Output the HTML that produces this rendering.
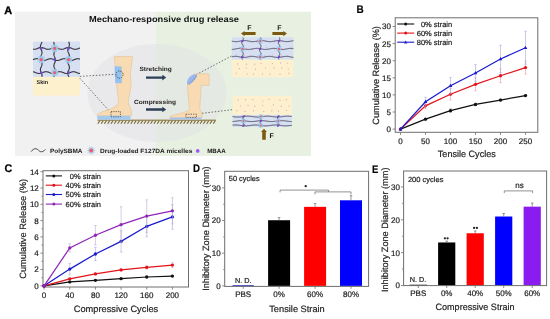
<!DOCTYPE html>
<html><head><meta charset="utf-8"><style>
html,body{margin:0;padding:0;background:#fff;width:550px;height:319px;overflow:hidden}
svg{display:block;font-family:"Liberation Sans", sans-serif;will-change:transform;filter:blur(0.3px)} text{text-rendering:geometricPrecision} .c text{stroke:#222;stroke-width:0.2px}
</style></head><body>
<svg width="550" height="319" viewBox="0 0 550 319">
<rect width="550" height="319" fill="#fff"/>
<rect x="15" y="11.7" width="141" height="144.3" fill="#f1f1f1"/>
<rect x="156" y="11.7" width="155" height="144.3" fill="#e8f1e1"/>
<ellipse cx="157" cy="93" rx="69.5" ry="49" fill="#e2e2e5" opacity="0.5"/>
<text x="4.30" y="13.50" font-size="11" text-anchor="start" font-weight="bold" fill="#000" textLength="7.9" lengthAdjust="spacingAndGlyphs" stroke="#000" stroke-width="0.35">A</text>
<text x="89.00" y="21.70" font-size="8.6" text-anchor="start" font-weight="bold" fill="#111" textLength="150" lengthAdjust="spacingAndGlyphs" >Mechano-responsive drug release</text>
<rect x="33" y="41.6" width="47" height="35.3" fill="#d7dff3"/>
<rect x="33" y="76.9" width="47" height="18.8" fill="#fdf0cc"/>
<polyline points="33.00,49.16 33.49,49.25 33.99,49.29 34.48,49.29 34.98,49.25 35.47,49.16 35.97,49.03 36.46,48.87 36.96,48.69 37.45,48.49 37.95,48.29 38.44,48.09 38.94,47.91 39.43,47.75 39.93,47.63 40.42,47.54 40.92,47.50 41.41,47.51 41.91,47.56 42.40,47.66 42.89,47.79 43.39,47.95 43.88,48.14 44.38,48.34 44.87,48.55 45.37,48.74 45.86,48.92 46.36,49.07 46.85,49.19 47.35,49.27 47.84,49.30 48.34,49.29 48.83,49.23 49.33,49.13 49.82,48.99 50.32,48.82 50.81,48.63 51.31,48.43 51.80,48.22 52.29,48.03 52.79,47.85 53.28,47.71 53.78,47.60 54.27,47.53 54.77,47.50 55.26,47.52 55.76,47.59 56.25,47.69 56.75,47.84 57.24,48.01 57.74,48.20 58.23,48.40 58.73,48.61 59.22,48.80 59.72,48.97 60.21,49.11 60.71,49.22 61.20,49.28 61.69,49.30 62.19,49.27 62.68,49.20 63.18,49.09 63.67,48.94 64.17,48.76 64.66,48.57 65.16,48.36 65.65,48.16 66.15,47.97 66.64,47.81 67.14,47.67 67.63,47.57 68.13,47.51 68.62,47.50 69.12,47.54 69.61,47.62 70.11,47.73 70.60,47.89 71.09,48.07 71.59,48.26 72.08,48.47 72.58,48.67 73.07,48.85 73.57,49.02 74.06,49.15 74.56,49.24 75.05,49.29 75.55,49.30 76.04,49.25 76.54,49.17 77.03,49.04 77.53,48.89 78.02,48.70 78.52,48.50 79.01,48.30 79.51,48.10 80.00,47.92" fill="none" stroke="#3a3a3a" stroke-width="1.15"/>
<polyline points="33.00,59.73 33.49,59.52 33.99,59.32 34.48,59.14 34.98,58.98 35.47,58.85 35.97,58.75 36.46,58.71 36.96,58.70 37.45,58.75 37.95,58.84 38.44,58.96 38.94,59.12 39.43,59.31 39.93,59.50 40.42,59.71 40.92,59.91 41.41,60.09 41.91,60.25 42.40,60.37 42.89,60.46 43.39,60.50 43.88,60.49 44.38,60.44 44.87,60.35 45.37,60.21 45.86,60.05 46.36,59.86 46.85,59.66 47.35,59.46 47.84,59.26 48.34,59.09 48.83,58.93 49.33,58.81 49.82,58.74 50.32,58.70 50.81,58.71 51.31,58.77 51.80,58.87 52.29,59.01 52.79,59.18 53.28,59.37 53.78,59.57 54.27,59.77 54.77,59.96 55.26,60.14 55.76,60.29 56.25,60.40 56.75,60.47 57.24,60.50 57.74,60.48 58.23,60.42 58.73,60.31 59.22,60.17 59.72,60.00 60.21,59.80 60.71,59.60 61.20,59.40 61.69,59.21 62.19,59.03 62.68,58.89 63.18,58.78 63.67,58.72 64.17,58.70 64.66,58.73 65.16,58.80 65.65,58.91 66.15,59.06 66.64,59.23 67.14,59.43 67.63,59.63 68.13,59.83 68.62,60.02 69.12,60.19 69.61,60.33 70.11,60.43 70.60,60.49 71.09,60.50 71.59,60.47 72.08,60.39 72.58,60.27 73.07,60.12 73.57,59.94 74.06,59.74 74.56,59.54 75.05,59.34 75.55,59.15 76.04,58.99 76.54,58.85 77.03,58.76 77.53,58.71 78.02,58.70 78.52,58.74 79.01,58.83 79.51,58.95 80.00,59.11" fill="none" stroke="#3a3a3a" stroke-width="1.15"/>
<polyline points="33.00,71.74 33.49,71.82 33.99,71.94 34.48,72.09 34.98,72.27 35.47,72.47 35.97,72.67 36.46,72.87 36.96,73.06 37.45,73.22 37.95,73.35 38.44,73.44 38.94,73.49 39.43,73.50 39.93,73.45 40.42,73.37 40.92,73.24 41.41,73.08 41.91,72.90 42.40,72.70 42.89,72.50 43.39,72.30 43.88,72.12 44.38,71.96 44.87,71.83 45.37,71.75 45.86,71.70 46.36,71.71 46.85,71.76 47.35,71.85 47.84,71.98 48.34,72.14 48.83,72.33 49.33,72.53 49.82,72.73 50.32,72.93 50.81,73.11 51.31,73.26 51.80,73.38 52.29,73.46 52.79,73.50 53.28,73.49 53.78,73.43 54.27,73.33 54.77,73.20 55.26,73.03 55.76,72.84 56.25,72.64 56.75,72.44 57.24,72.24 57.74,72.06 58.23,71.92 58.73,71.80 59.22,71.73 59.72,71.70 60.21,71.72 60.71,71.78 61.20,71.89 61.69,72.03 62.19,72.20 62.68,72.39 63.18,72.59 63.67,72.79 64.17,72.99 64.66,73.16 65.16,73.30 65.65,73.41 66.15,73.48 66.64,73.50 67.14,73.48 67.63,73.41 68.13,73.29 68.62,73.15 69.12,72.97 69.61,72.78 70.11,72.58 70.60,72.37 71.09,72.18 71.59,72.02 72.08,71.88 72.58,71.77 73.07,71.72 73.57,71.70 74.06,71.73 74.56,71.81 75.05,71.93 75.55,72.08 76.04,72.26 76.54,72.45 77.03,72.66 77.53,72.86 78.02,73.04 78.52,73.21 79.01,73.34 79.51,73.44 80.00,73.49" fill="none" stroke="#3a3a3a" stroke-width="1.15"/>
<polyline points="41.93,41.80 41.81,42.29 41.65,42.79 41.46,43.28 41.25,43.78 41.03,44.27 40.83,44.77 40.66,45.26 40.52,45.75 40.43,46.25 40.40,46.74 40.43,47.24 40.51,47.73 40.64,48.23 40.82,48.72 41.02,49.22 41.23,49.71 41.44,50.20 41.64,50.70 41.80,51.19 41.92,51.69 41.99,52.18 42.00,52.68 41.95,53.17 41.85,53.66 41.70,54.16 41.51,54.65 41.31,55.15 41.09,55.64 40.88,56.14 40.70,56.63 40.55,57.13 40.45,57.62 40.40,58.11 40.41,58.61 40.48,59.10 40.60,59.60 40.77,60.09 40.96,60.59 41.17,61.08 41.39,61.57 41.59,62.07 41.76,62.56 41.89,63.06 41.97,63.55 42.00,64.05 41.97,64.54 41.88,65.04 41.74,65.53 41.56,66.02 41.36,66.52 41.15,67.01 40.94,67.51 40.74,68.00 40.58,68.50 40.47,68.99 40.41,69.48 40.41,69.98 40.46,70.47 40.57,70.97 40.72,71.46 40.91,71.96 41.12,72.45 41.33,72.95 41.54,73.44 41.72,73.93 41.86,74.43 41.96,74.92 42.00,75.42 41.98,75.91 41.91,76.41 41.78,76.90" fill="none" stroke="#3a3a3a" stroke-width="1.15"/>
<polyline points="54.00,41.80 53.92,42.29 53.90,42.79 53.94,43.28 54.03,43.78 54.16,44.27 54.34,44.77 54.55,45.26 54.76,45.75 54.97,46.25 55.16,46.74 55.32,47.24 55.43,47.73 55.49,48.23 55.49,48.72 55.44,49.22 55.33,49.71 55.17,50.20 54.98,50.70 54.77,51.19 54.56,51.69 54.35,52.18 54.17,52.68 54.03,53.17 53.94,53.66 53.90,54.16 53.92,54.65 54.00,55.15 54.12,55.64 54.29,56.14 54.49,56.63 54.71,57.13 54.92,57.62 55.12,58.11 55.28,58.61 55.41,59.10 55.48,59.60 55.50,60.09 55.46,60.59 55.36,61.08 55.22,61.57 55.04,62.07 54.83,62.56 54.61,63.06 54.41,63.55 54.22,64.05 54.07,64.54 53.96,65.04 53.91,65.53 53.91,66.02 53.97,66.52 54.09,67.01 54.25,67.51 54.44,68.00 54.65,68.50 54.86,68.99 55.07,69.48 55.24,69.98 55.38,70.47 55.47,70.97 55.50,71.46 55.47,71.96 55.39,72.45 55.26,72.95 55.09,73.44 54.89,73.93 54.67,74.43 54.46,74.92 54.26,75.42 54.10,75.91 53.98,76.41 53.91,76.90" fill="none" stroke="#3a3a3a" stroke-width="1.15"/>
<polyline points="68.69,41.80 68.90,42.29 69.09,42.79 69.24,43.28 69.34,43.78 69.40,44.27 69.39,44.77 69.32,45.26 69.21,45.75 69.05,46.25 68.85,46.74 68.64,47.24 68.43,47.73 68.23,48.23 68.05,48.72 67.92,49.22 67.83,49.71 67.80,50.20 67.83,50.70 67.91,51.19 68.05,51.69 68.22,52.18 68.42,52.68 68.64,53.17 68.85,53.66 69.04,54.16 69.20,54.65 69.32,55.15 69.39,55.64 69.40,56.14 69.35,56.63 69.24,57.13 69.09,57.62 68.91,58.11 68.70,58.61 68.48,59.10 68.28,59.60 68.09,60.09 67.95,60.59 67.85,61.08 67.80,61.57 67.82,62.07 67.89,62.56 68.01,63.06 68.17,63.55 68.37,64.05 68.58,64.54 68.79,65.04 68.99,65.53 69.17,66.02 69.30,66.52 69.38,67.01 69.40,67.51 69.37,68.00 69.28,68.50 69.14,68.99 68.96,69.48 68.76,69.98 68.54,70.47 68.33,70.97 68.14,71.46 67.98,71.96 67.87,72.45 67.81,72.95 67.81,73.44 67.86,73.93 67.97,74.43 68.12,74.92 68.31,75.42 68.52,75.91 68.74,76.41 68.94,76.90" fill="none" stroke="#3a3a3a" stroke-width="1.15"/>
<circle cx="41.2" cy="48.4" r="1.35" fill="#7a44dc"/>
<circle cx="54.7" cy="48.4" r="3.3" fill="#b4d6f4" opacity="0.95"/>
<path d="M56.40,48.40 L58.90,48.40 M56.17,49.25 L58.34,50.50 M55.55,49.87 L56.80,52.04 M54.70,50.10 L54.70,52.60 M53.85,49.87 L52.60,52.04 M53.23,49.25 L51.06,50.50 M53.00,48.40 L50.50,48.40 M53.23,47.55 L51.06,46.30 M53.85,46.93 L52.60,44.76 M54.70,46.70 L54.70,44.20 M55.55,46.93 L56.80,44.76 M56.17,47.55 L58.34,46.30" stroke="#84bcea" stroke-width="0.6" fill="none"/>
<circle cx="54.7" cy="48.4" r="1.7" fill="#e9606a"/>
<circle cx="68.6" cy="48.4" r="1.35" fill="#7a44dc"/>
<circle cx="41.2" cy="59.6" r="3.3" fill="#b4d6f4" opacity="0.95"/>
<path d="M42.90,59.60 L45.40,59.60 M42.67,60.45 L44.84,61.70 M42.05,61.07 L43.30,63.24 M41.20,61.30 L41.20,63.80 M40.35,61.07 L39.10,63.24 M39.73,60.45 L37.56,61.70 M39.50,59.60 L37.00,59.60 M39.73,58.75 L37.56,57.50 M40.35,58.13 L39.10,55.96 M41.20,57.90 L41.20,55.40 M42.05,58.13 L43.30,55.96 M42.67,58.75 L44.84,57.50" stroke="#84bcea" stroke-width="0.6" fill="none"/>
<circle cx="41.2" cy="59.6" r="1.7" fill="#e9606a"/>
<circle cx="54.7" cy="59.6" r="1.35" fill="#7a44dc"/>
<circle cx="68.6" cy="59.6" r="3.3" fill="#b4d6f4" opacity="0.95"/>
<path d="M70.30,59.60 L72.80,59.60 M70.07,60.45 L72.24,61.70 M69.45,61.07 L70.70,63.24 M68.60,61.30 L68.60,63.80 M67.75,61.07 L66.50,63.24 M67.13,60.45 L64.96,61.70 M66.90,59.60 L64.40,59.60 M67.13,58.75 L64.96,57.50 M67.75,58.13 L66.50,55.96 M68.60,57.90 L68.60,55.40 M69.45,58.13 L70.70,55.96 M70.07,58.75 L72.24,57.50" stroke="#84bcea" stroke-width="0.6" fill="none"/>
<circle cx="68.6" cy="59.6" r="1.7" fill="#e9606a"/>
<circle cx="41.2" cy="72.6" r="1.35" fill="#7a44dc"/>
<circle cx="54.7" cy="72.6" r="3.3" fill="#b4d6f4" opacity="0.95"/>
<path d="M56.40,72.60 L58.90,72.60 M56.17,73.45 L58.34,74.70 M55.55,74.07 L56.80,76.24 M54.70,74.30 L54.70,76.80 M53.85,74.07 L52.60,76.24 M53.23,73.45 L51.06,74.70 M53.00,72.60 L50.50,72.60 M53.23,71.75 L51.06,70.50 M53.85,71.13 L52.60,68.96 M54.70,70.90 L54.70,68.40 M55.55,71.13 L56.80,68.96 M56.17,71.75 L58.34,70.50" stroke="#84bcea" stroke-width="0.6" fill="none"/>
<circle cx="54.7" cy="72.6" r="1.7" fill="#e9606a"/>
<circle cx="68.6" cy="72.6" r="1.35" fill="#7a44dc"/>
<text x="36.50" y="83.60" font-size="5.5" text-anchor="start" font-weight="bold" fill="#222" textLength="11.5" lengthAdjust="spacingAndGlyphs" >Skin</text>
<line x1="79.8" y1="76.4" x2="115.8" y2="74.2" stroke="#444" stroke-width="0.75" stroke-dasharray="1.5,1.7" fill="none"/>
<line x1="79.8" y1="78.2" x2="110.8" y2="112.6" stroke="#444" stroke-width="0.75" stroke-dasharray="1.5,1.7" fill="none"/>
<line x1="196.3" y1="74.6" x2="231.5" y2="56" stroke="#444" stroke-width="0.75" stroke-dasharray="1.5,1.7" fill="none"/>
<line x1="202" y1="113.3" x2="232.2" y2="109.7" stroke="#444" stroke-width="0.75" stroke-dasharray="1.5,1.7" fill="none"/>
<line x1="97.5" y1="120.2" x2="216" y2="120.2" stroke="#7d6a28" stroke-width="1.0"/>
<path d="M97.80,123.8 L99.80,120.7 M101.10,123.8 L103.10,120.7 M104.40,123.8 L106.40,120.7 M107.70,123.8 L109.70,120.7 M111.00,123.8 L113.00,120.7 M114.30,123.8 L116.30,120.7 M117.60,123.8 L119.60,120.7 M120.90,123.8 L122.90,120.7 M124.20,123.8 L126.20,120.7 M127.50,123.8 L129.50,120.7 M130.80,123.8 L132.80,120.7 M134.10,123.8 L136.10,120.7 M137.40,123.8 L139.40,120.7 M140.70,123.8 L142.70,120.7 M144.00,123.8 L146.00,120.7 M147.30,123.8 L149.30,120.7 M150.60,123.8 L152.60,120.7 M153.90,123.8 L155.90,120.7 M157.20,123.8 L159.20,120.7 M160.50,123.8 L162.50,120.7 M163.80,123.8 L165.80,120.7 M167.10,123.8 L169.10,120.7 M170.40,123.8 L172.40,120.7 M173.70,123.8 L175.70,120.7 M177.00,123.8 L179.00,120.7 M180.30,123.8 L182.30,120.7 M183.60,123.8 L185.60,120.7 M186.90,123.8 L188.90,120.7 M190.20,123.8 L192.20,120.7 M193.50,123.8 L195.50,120.7 M196.80,123.8 L198.80,120.7 M200.10,123.8 L202.10,120.7 M203.40,123.8 L205.40,120.7 M206.70,123.8 L208.70,120.7 M210.00,123.8 L212.00,120.7 M213.30,123.8 L215.30,120.7" stroke="#74622a" stroke-width="1.05" fill="none"/>
<path d="M114.2,56.6 L132.6,56.6 L130.4,73.5 C131.2,79 131.2,84 130.8,88 L128.2,101.6 C128.6,106 131.4,108.5 131.4,112 L131.4,115.8 L97.3,115.8 C97.3,113.2 101,112.2 106,110.6 C112,108.6 117.5,106.5 118.6,101.6 L116.9,88 L116.1,73.5 Z" fill="#f8dbb2" stroke="#dcbb8c" stroke-width="0.5"/>
<rect x="97.3" y="115.8" width="33.2" height="3.9" fill="#a4caf0"/>
<path d="M114.5,66.2 L121.6,66.5 L121.8,83.3 L115.2,83 Z" fill="#97c2f0"/>
<circle cx="119.5" cy="74.6" r="3.6" fill="none" stroke="#333" stroke-width="0.75" stroke-dasharray="1.4,1.1"/>
<rect x="111" y="111.6" width="9.4" height="5.2" fill="none" stroke="#3a3a3a" stroke-width="0.7" stroke-dasharray="1.3,1"/>
<path d="M195.4,73.8 L208.3,73.8 Q209.1,73.8 209.1,74.8 L209.1,85.3 L201.2,85.3 L200.4,98 L199.7,108.5 C200.3,110.5 201.8,112 201.8,114.5 L201.8,117.6 L169.4,117.6 C169.4,115.9 174.5,115 179.5,113.6 C184.5,112.2 189.2,110.6 189.4,108.8 L188.3,98 L187.5,86 C187.4,80.5 190.5,75.6 195.4,73.8 Z" fill="#f8dbb2" stroke="#dcbb8c" stroke-width="0.5"/>
<rect x="170" y="117.6" width="31.5" height="1.8" fill="#a8c4ee"/>
<path d="M187.2,84.6 C186.6,81 188.2,77.5 191.5,75.5 C193.5,74.3 195.5,73.8 197.2,74.6 C196.8,77.5 194.5,80.5 192,82.5 C190.5,83.8 189,84.8 187.2,84.6 Z" fill="#9ab8ee"/>
<path d="M189.2,84.2 C191.5,82.5 194.5,79.5 196.8,75.2" fill="none" stroke="#44506a" stroke-width="0.6" stroke-dasharray="1.1,0.9"/>
<rect x="185.9" y="114.2" width="10.6" height="3.2" fill="none" stroke="#3a3a3a" stroke-width="0.7" stroke-dasharray="1.3,1.1"/>
<path d="M146,76.39999999999999 L162.3,76.39999999999999 L162.3,74.8 L166.2,77.6 L162.3,80.39999999999999 L162.3,78.8 L146,78.8 Z" fill="#2c3f58"/>
<path d="M146,108.3 L162.3,108.3 L162.3,106.7 L166.2,109.5 L162.3,112.3 L162.3,110.7 L146,110.7 Z" fill="#2c3f58"/>
<text x="139.40" y="70.80" font-size="6.1" text-anchor="start" font-weight="bold" fill="#222" textLength="32.4" lengthAdjust="spacingAndGlyphs" >Stretching</text>
<text x="134.10" y="104.40" font-size="6.1" text-anchor="start" font-weight="bold" fill="#222" textLength="41.9" lengthAdjust="spacingAndGlyphs" >Compressing</text>
<rect x="231.8" y="37.3" width="61.6" height="22.4" fill="#d7dff3"/>
<rect x="231.8" y="59.7" width="61.6" height="17.5" fill="#fdf0cf"/>
<circle cx="237.6" cy="63.9" r="0.6" fill="#e6a2a0"/>
<circle cx="246.6" cy="64.2" r="0.6" fill="#e6a2a0"/>
<circle cx="254.8" cy="64.2" r="0.6" fill="#e6a2a0"/>
<circle cx="261.0" cy="63.4" r="0.6" fill="#e6a2a0"/>
<circle cx="272.3" cy="63.7" r="0.6" fill="#e6a2a0"/>
<circle cx="280.6" cy="62.9" r="0.6" fill="#e6a2a0"/>
<circle cx="287.7" cy="63.1" r="0.6" fill="#e6a2a0"/>
<circle cx="239.5" cy="68.6" r="0.6" fill="#e6a2a0"/>
<circle cx="246.2" cy="68.0" r="0.6" fill="#e6a2a0"/>
<circle cx="255.5" cy="69.2" r="0.6" fill="#e6a2a0"/>
<circle cx="265.5" cy="68.0" r="0.6" fill="#e6a2a0"/>
<circle cx="274.0" cy="67.9" r="0.6" fill="#e6a2a0"/>
<circle cx="281.8" cy="67.9" r="0.6" fill="#e6a2a0"/>
<circle cx="288.3" cy="69.1" r="0.6" fill="#e6a2a0"/>
<circle cx="236.3" cy="73.0" r="0.6" fill="#e6a2a0"/>
<circle cx="247.2" cy="74.1" r="0.6" fill="#e6a2a0"/>
<circle cx="253.4" cy="74.2" r="0.6" fill="#e6a2a0"/>
<circle cx="262.6" cy="73.8" r="0.6" fill="#e6a2a0"/>
<circle cx="270.0" cy="74.2" r="0.6" fill="#e6a2a0"/>
<circle cx="280.0" cy="74.2" r="0.6" fill="#e6a2a0"/>
<circle cx="289.0" cy="73.2" r="0.6" fill="#e6a2a0"/>
<circle cx="236.2" cy="41.3" r="0.6" fill="#e4a4b4"/>
<circle cx="242.9" cy="41.1" r="0.6" fill="#e4a4b4"/>
<circle cx="250.8" cy="42.0" r="0.6" fill="#e4a4b4"/>
<circle cx="257.2" cy="42.1" r="0.6" fill="#e4a4b4"/>
<circle cx="265.7" cy="41.5" r="0.6" fill="#e4a4b4"/>
<circle cx="274.6" cy="41.8" r="0.6" fill="#e4a4b4"/>
<circle cx="280.3" cy="41.8" r="0.6" fill="#e4a4b4"/>
<circle cx="289.0" cy="41.1" r="0.6" fill="#e4a4b4"/>
<circle cx="240.1" cy="47.7" r="0.6" fill="#e4a4b4"/>
<circle cx="246.7" cy="49.1" r="0.6" fill="#e4a4b4"/>
<circle cx="251.7" cy="49.0" r="0.6" fill="#e4a4b4"/>
<circle cx="260.2" cy="48.6" r="0.6" fill="#e4a4b4"/>
<circle cx="266.5" cy="47.8" r="0.6" fill="#e4a4b4"/>
<circle cx="274.4" cy="49.2" r="0.6" fill="#e4a4b4"/>
<circle cx="281.8" cy="48.9" r="0.6" fill="#e4a4b4"/>
<circle cx="291.5" cy="49.2" r="0.6" fill="#e4a4b4"/>
<circle cx="236.2" cy="54.9" r="0.6" fill="#e4a4b4"/>
<circle cx="244.1" cy="55.6" r="0.6" fill="#e4a4b4"/>
<circle cx="250.2" cy="55.6" r="0.6" fill="#e4a4b4"/>
<circle cx="259.8" cy="55.7" r="0.6" fill="#e4a4b4"/>
<circle cx="264.7" cy="55.9" r="0.6" fill="#e4a4b4"/>
<circle cx="272.3" cy="54.9" r="0.6" fill="#e4a4b4"/>
<circle cx="281.3" cy="55.8" r="0.6" fill="#e4a4b4"/>
<circle cx="287.8" cy="55.8" r="0.6" fill="#e4a4b4"/>
<polyline points="231.80,41.10 232.30,41.20 232.79,41.30 233.29,41.39 233.79,41.47 234.28,41.54 234.78,41.59 235.28,41.63 235.77,41.65 236.27,41.65 236.77,41.63 237.26,41.60 237.76,41.54 238.26,41.48 238.75,41.40 239.25,41.31 239.75,41.21 240.25,41.11 240.74,41.01 241.24,40.91 241.74,40.82 242.23,40.74 242.73,40.67 243.23,40.61 243.72,40.58 244.22,40.55 244.72,40.55 245.21,40.57 245.71,40.60 246.21,40.65 246.70,40.72 247.20,40.79 247.70,40.88 248.19,40.98 248.69,41.08 249.19,41.18 249.68,41.28 250.18,41.37 250.68,41.45 251.17,41.52 251.67,41.58 252.17,41.62 252.66,41.64 253.16,41.65 253.66,41.64 254.15,41.60 254.65,41.56 255.15,41.49 255.65,41.42 256.14,41.33 256.64,41.23 257.14,41.13 257.63,41.03 258.13,40.93 258.63,40.84 259.12,40.76 259.62,40.68 260.12,40.63 260.61,40.58 261.11,40.56 261.61,40.55 262.10,40.56 262.60,40.59 263.10,40.64 263.59,40.70 264.09,40.78 264.59,40.86 265.08,40.96 265.58,41.06 266.08,41.16 266.57,41.26 267.07,41.35 267.57,41.43 268.06,41.51 268.56,41.57 269.06,41.61 269.55,41.64 270.05,41.65 270.55,41.64 271.05,41.61 271.54,41.57 272.04,41.51 272.54,41.43 273.03,41.35 273.53,41.25 274.03,41.16 274.52,41.05 275.02,40.96 275.52,40.86 276.01,40.77 276.51,40.70 277.01,40.64 277.50,40.59 278.00,40.56 278.50,40.55 278.99,40.56 279.49,40.58 279.99,40.63 280.48,40.68 280.98,40.76 281.48,40.84 281.97,40.93 282.47,41.03 282.97,41.13 283.46,41.23 283.96,41.33 284.46,41.42 284.95,41.49 285.45,41.56 285.95,41.61 286.45,41.64 286.94,41.65 287.44,41.64 287.94,41.62 288.43,41.58 288.93,41.52 289.43,41.45 289.92,41.37 290.42,41.28 290.92,41.18 291.41,41.08 291.91,40.98 292.41,40.88 292.90,40.79 293.40,40.71" fill="none" stroke="#50505e" stroke-width="1.0"/>
<polyline points="231.80,49.45 232.30,49.42 232.79,49.38 233.29,49.33 233.79,49.26 234.28,49.17 234.78,49.08 235.28,48.99 235.77,48.89 236.27,48.78 236.77,48.69 237.26,48.60 237.76,48.52 238.26,48.45 238.75,48.40 239.25,48.37 239.75,48.35 240.25,48.35 240.74,48.37 241.24,48.41 241.74,48.47 242.23,48.53 242.73,48.62 243.23,48.71 243.72,48.80 244.22,48.90 244.72,49.00 245.21,49.10 245.71,49.19 246.21,49.27 246.70,49.34 247.20,49.39 247.70,49.43 248.19,49.45 248.69,49.45 249.19,49.43 249.68,49.39 250.18,49.34 250.68,49.27 251.17,49.19 251.67,49.10 252.17,49.01 252.66,48.91 253.16,48.81 253.66,48.71 254.15,48.62 254.65,48.54 255.15,48.47 255.65,48.41 256.14,48.37 256.64,48.35 257.14,48.35 257.63,48.37 258.13,48.40 258.63,48.45 259.12,48.52 259.62,48.60 260.12,48.69 260.61,48.78 261.11,48.88 261.61,48.98 262.10,49.08 262.60,49.17 263.10,49.25 263.59,49.33 264.09,49.38 264.59,49.42 265.08,49.44 265.58,49.45 266.08,49.44 266.57,49.40 267.07,49.35 267.57,49.29 268.06,49.21 268.56,49.12 269.06,49.03 269.55,48.93 270.05,48.83 270.55,48.73 271.05,48.64 271.54,48.55 272.04,48.48 272.54,48.42 273.03,48.38 273.53,48.36 274.03,48.35 274.52,48.36 275.02,48.39 275.52,48.44 276.01,48.50 276.51,48.58 277.01,48.67 277.50,48.76 278.00,48.86 278.50,48.96 278.99,49.06 279.49,49.15 279.99,49.24 280.48,49.31 280.98,49.37 281.48,49.41 281.97,49.44 282.47,49.45 282.97,49.44 283.46,49.41 283.96,49.37 284.46,49.31 284.95,49.23 285.45,49.14 285.95,49.05 286.45,48.95 286.94,48.85 287.44,48.75 287.94,48.66 288.43,48.57 288.93,48.50 289.43,48.44 289.92,48.39 290.42,48.36 290.92,48.35 291.41,48.36 291.91,48.38 292.41,48.43 292.90,48.49 293.40,48.56" fill="none" stroke="#50505e" stroke-width="1.0"/>
<polyline points="231.80,56.76 232.30,56.66 232.79,56.58 233.29,56.50 233.79,56.44 234.28,56.39 234.78,56.36 235.28,56.35 235.77,56.36 236.27,56.38 236.77,56.42 237.26,56.48 237.76,56.55 238.26,56.64 238.75,56.73 239.25,56.83 239.75,56.93 240.25,57.03 240.74,57.13 241.24,57.21 241.74,57.29 242.23,57.35 242.73,57.40 243.23,57.44 243.72,57.45 244.22,57.44 244.72,57.42 245.21,57.38 245.71,57.33 246.21,57.25 246.70,57.17 247.20,57.08 247.70,56.98 248.19,56.88 248.69,56.78 249.19,56.69 249.68,56.60 250.18,56.52 250.68,56.45 251.17,56.40 251.67,56.37 252.17,56.35 252.66,56.35 253.16,56.37 253.66,56.41 254.15,56.47 254.65,56.54 255.15,56.62 255.65,56.71 256.14,56.81 256.64,56.91 257.14,57.01 257.63,57.10 258.13,57.19 258.63,57.27 259.12,57.34 259.62,57.39 260.12,57.43 260.61,57.45 261.11,57.45 261.61,57.43 262.10,57.39 262.60,57.34 263.10,57.27 263.59,57.19 264.09,57.10 264.59,57.00 265.08,56.90 265.58,56.80 266.08,56.71 266.57,56.62 267.07,56.53 267.57,56.47 268.06,56.41 268.56,56.37 269.06,56.35 269.55,56.35 270.05,56.37 270.55,56.40 271.05,56.45 271.54,56.52 272.04,56.60 272.54,56.69 273.03,56.79 273.53,56.89 274.03,56.99 274.52,57.08 275.02,57.18 275.52,57.26 276.01,57.33 276.51,57.38 277.01,57.42 277.50,57.45 278.00,57.45 278.50,57.43 278.99,57.40 279.49,57.35 279.99,57.29 280.48,57.21 280.98,57.12 281.48,57.03 281.97,56.93 282.47,56.82 282.97,56.73 283.46,56.63 283.96,56.55 284.46,56.48 284.95,56.42 285.45,56.38 285.95,56.36 286.45,56.35 286.94,56.36 287.44,56.39 287.94,56.44 288.43,56.50 288.93,56.58 289.43,56.67 289.92,56.76 290.42,56.86 290.92,56.96 291.41,57.06 291.91,57.16 292.41,57.24 292.90,57.31 293.40,57.37" fill="none" stroke="#50505e" stroke-width="1.0"/>
<polyline points="242.88,37.50 243.13,37.99 243.27,38.48 243.29,38.97 243.17,39.46 242.95,39.94 242.65,40.43 242.32,40.92 242.03,41.41 241.81,41.90 241.71,42.39 241.73,42.88 241.89,43.37 242.15,43.86 242.46,44.34 242.78,44.83 243.06,45.32 243.24,45.81 243.30,46.30 243.23,46.79 243.04,47.28 242.75,47.77 242.43,48.26 242.12,48.74 241.87,49.23 241.73,49.72 241.71,50.21 241.82,50.70 242.05,51.19 242.35,51.68 242.68,52.17 242.97,52.66 243.19,53.14 243.29,53.63 243.27,54.12 243.11,54.61 242.86,55.10 242.54,55.59 242.22,56.08 241.95,56.57 241.76,57.06 241.70,57.54 241.77,58.03 241.96,58.52 242.24,59.01 242.56,59.50" fill="none" stroke="#454552" stroke-width="0.9"/>
<polyline points="260.58,37.50 260.83,37.99 260.97,38.48 260.99,38.97 260.87,39.46 260.65,39.94 260.35,40.43 260.02,40.92 259.73,41.41 259.51,41.90 259.41,42.39 259.43,42.88 259.59,43.37 259.85,43.86 260.16,44.34 260.48,44.83 260.76,45.32 260.94,45.81 261.00,46.30 260.93,46.79 260.74,47.28 260.45,47.77 260.13,48.26 259.82,48.74 259.57,49.23 259.43,49.72 259.41,50.21 259.52,50.70 259.75,51.19 260.05,51.68 260.38,52.17 260.67,52.66 260.89,53.14 260.99,53.63 260.97,54.12 260.81,54.61 260.56,55.10 260.24,55.59 259.92,56.08 259.65,56.57 259.46,57.06 259.40,57.54 259.47,58.03 259.66,58.52 259.94,59.01 260.26,59.50" fill="none" stroke="#454552" stroke-width="0.9"/>
<polyline points="279.38,37.50 279.63,37.99 279.77,38.48 279.79,38.97 279.67,39.46 279.45,39.94 279.15,40.43 278.82,40.92 278.53,41.41 278.31,41.90 278.21,42.39 278.23,42.88 278.39,43.37 278.65,43.86 278.96,44.34 279.28,44.83 279.56,45.32 279.74,45.81 279.80,46.30 279.73,46.79 279.54,47.28 279.25,47.77 278.93,48.26 278.62,48.74 278.37,49.23 278.23,49.72 278.21,50.21 278.32,50.70 278.55,51.19 278.85,51.68 279.18,52.17 279.47,52.66 279.69,53.14 279.79,53.63 279.77,54.12 279.61,54.61 279.36,55.10 279.04,55.59 278.72,56.08 278.45,56.57 278.26,57.06 278.20,57.54 278.27,58.03 278.46,58.52 278.74,59.01 279.06,59.50" fill="none" stroke="#454552" stroke-width="0.9"/>
<circle cx="242.5" cy="41.1" r="1.2" fill="#7a44dc"/>
<circle cx="242.5" cy="56.9" r="1.2" fill="#7a44dc"/>
<circle cx="242.5" cy="48.9" r="2.1" fill="#b4d6f4" opacity="0.95"/>
<path d="M243.70,48.90 L245.40,48.90 M243.54,49.50 L245.01,50.35 M243.10,49.94 L243.95,51.41 M242.50,50.10 L242.50,51.80 M241.90,49.94 L241.05,51.41 M241.46,49.50 L239.99,50.35 M241.30,48.90 L239.60,48.90 M241.46,48.30 L239.99,47.45 M241.90,47.86 L241.05,46.39 M242.50,47.70 L242.50,46.00 M243.10,47.86 L243.95,46.39 M243.54,48.30 L245.01,47.45" stroke="#84bcea" stroke-width="0.6" fill="none"/>
<circle cx="242.5" cy="48.9" r="1.2" fill="#e9606a"/>
<circle cx="279.0" cy="41.1" r="1.2" fill="#7a44dc"/>
<circle cx="279.0" cy="56.9" r="1.2" fill="#7a44dc"/>
<circle cx="279.0" cy="48.9" r="2.1" fill="#b4d6f4" opacity="0.95"/>
<path d="M280.20,48.90 L281.90,48.90 M280.04,49.50 L281.51,50.35 M279.60,49.94 L280.45,51.41 M279.00,50.10 L279.00,51.80 M278.40,49.94 L277.55,51.41 M277.96,49.50 L276.49,50.35 M277.80,48.90 L276.10,48.90 M277.96,48.30 L276.49,47.45 M278.40,47.86 L277.55,46.39 M279.00,47.70 L279.00,46.00 M279.60,47.86 L280.45,46.39 M280.04,48.30 L281.51,47.45" stroke="#84bcea" stroke-width="0.6" fill="none"/>
<circle cx="279.0" cy="48.9" r="1.2" fill="#e9606a"/>
<circle cx="260.2" cy="41.1" r="2.1" fill="#b4d6f4" opacity="0.95"/>
<path d="M261.40,41.10 L263.10,41.10 M261.24,41.70 L262.71,42.55 M260.80,42.14 L261.65,43.61 M260.20,42.30 L260.20,44.00 M259.60,42.14 L258.75,43.61 M259.16,41.70 L257.69,42.55 M259.00,41.10 L257.30,41.10 M259.16,40.50 L257.69,39.65 M259.60,40.06 L258.75,38.59 M260.20,39.90 L260.20,38.20 M260.80,40.06 L261.65,38.59 M261.24,40.50 L262.71,39.65" stroke="#84bcea" stroke-width="0.6" fill="none"/>
<circle cx="260.2" cy="41.1" r="1.2" fill="#e9606a"/>
<circle cx="260.2" cy="48.9" r="1.2" fill="#7a44dc"/>
<circle cx="260.2" cy="56.9" r="2.1" fill="#b4d6f4" opacity="0.95"/>
<path d="M261.40,56.90 L263.10,56.90 M261.24,57.50 L262.71,58.35 M260.80,57.94 L261.65,59.41 M260.20,58.10 L260.20,59.80 M259.60,57.94 L258.75,59.41 M259.16,57.50 L257.69,58.35 M259.00,56.90 L257.30,56.90 M259.16,56.30 L257.69,55.45 M259.60,55.86 L258.75,54.39 M260.20,55.70 L260.20,54.00 M260.80,55.86 L261.65,54.39 M261.24,56.30 L262.71,55.45" stroke="#84bcea" stroke-width="0.6" fill="none"/>
<circle cx="260.2" cy="56.9" r="1.2" fill="#e9606a"/>
<path d="M244.6,32.1 L255.6,32.1 L255.6,35.1 L244.6,35.1 L244.6,36.2 L241.0,33.6 L244.6,31.0 Z" fill="#7b5a12"/>
<path d="M283.3,32.1 L272.4,32.1 L272.4,35.1 L283.3,35.1 L283.3,36.2 L287.0,33.6 L283.3,31.0 Z" fill="#7b5a12"/>
<text x="247.20" y="30.00" font-size="7" text-anchor="start" font-weight="bold" fill="#1a1a1a" >F</text>
<text x="277.30" y="30.00" font-size="7" text-anchor="start" font-weight="bold" fill="#1a1a1a" >F</text>
<rect x="232.6" y="95.9" width="59.2" height="19.0" fill="#fdf0cf"/>
<rect x="232.6" y="114.9" width="59.2" height="12.2" fill="#d7dff3"/>
<circle cx="238.2" cy="99.9" r="0.6" fill="#e6a2a0"/>
<circle cx="245.5" cy="99.7" r="0.6" fill="#e6a2a0"/>
<circle cx="252.8" cy="99.6" r="0.6" fill="#e6a2a0"/>
<circle cx="262.9" cy="101.0" r="0.6" fill="#e6a2a0"/>
<circle cx="269.2" cy="99.4" r="0.6" fill="#e6a2a0"/>
<circle cx="280.0" cy="100.2" r="0.6" fill="#e6a2a0"/>
<circle cx="286.2" cy="99.7" r="0.6" fill="#e6a2a0"/>
<circle cx="240.4" cy="106.0" r="0.6" fill="#e6a2a0"/>
<circle cx="248.0" cy="105.4" r="0.6" fill="#e6a2a0"/>
<circle cx="254.8" cy="106.2" r="0.6" fill="#e6a2a0"/>
<circle cx="262.8" cy="105.5" r="0.6" fill="#e6a2a0"/>
<circle cx="273.4" cy="104.9" r="0.6" fill="#e6a2a0"/>
<circle cx="281.2" cy="106.2" r="0.6" fill="#e6a2a0"/>
<circle cx="288.9" cy="106.0" r="0.6" fill="#e6a2a0"/>
<circle cx="236.8" cy="110.7" r="0.6" fill="#e6a2a0"/>
<circle cx="245.0" cy="111.4" r="0.6" fill="#e6a2a0"/>
<circle cx="253.5" cy="110.8" r="0.6" fill="#e6a2a0"/>
<circle cx="263.8" cy="111.4" r="0.6" fill="#e6a2a0"/>
<circle cx="271.8" cy="110.8" r="0.6" fill="#e6a2a0"/>
<circle cx="278.4" cy="111.2" r="0.6" fill="#e6a2a0"/>
<circle cx="286.4" cy="110.5" r="0.6" fill="#e6a2a0"/>
<polyline points="232.60,116.60 233.10,116.67 233.59,116.74 234.09,116.80 234.59,116.86 235.09,116.92 235.58,116.96 236.08,117.00 236.58,117.03 237.08,117.04 237.57,117.05 238.07,117.05 238.57,117.03 239.07,117.00 239.56,116.97 240.06,116.92 240.56,116.87 241.06,116.81 241.55,116.75 242.05,116.68 242.55,116.61 243.05,116.54 243.54,116.47 244.04,116.40 244.54,116.34 245.04,116.29 245.53,116.24 246.03,116.20 246.53,116.18 247.03,116.16 247.52,116.15 248.02,116.15 248.52,116.17 249.02,116.19 249.51,116.23 250.01,116.27 250.51,116.33 251.01,116.38 251.50,116.45 252.00,116.52 252.50,116.59 253.00,116.66 253.49,116.72 253.99,116.79 254.49,116.85 254.99,116.91 255.48,116.95 255.98,116.99 256.48,117.02 256.98,117.04 257.47,117.05 257.97,117.05 258.47,117.03 258.97,117.01 259.46,116.98 259.96,116.93 260.46,116.88 260.96,116.82 261.45,116.76 261.95,116.69 262.45,116.62 262.95,116.55 263.44,116.48 263.94,116.42 264.44,116.35 264.94,116.30 265.43,116.25 265.93,116.21 266.43,116.18 266.93,116.16 267.42,116.15 267.92,116.15 268.42,116.16 268.92,116.19 269.41,116.22 269.91,116.26 270.41,116.31 270.91,116.37 271.40,116.43 271.90,116.50 272.40,116.57 272.90,116.64 273.39,116.71 273.89,116.78 274.39,116.84 274.89,116.90 275.38,116.95 275.88,116.99 276.38,117.02 276.88,117.04 277.37,117.05 277.87,117.05 278.37,117.04 278.87,117.01 279.36,116.98 279.86,116.94 280.36,116.89 280.86,116.83 281.35,116.77 281.85,116.70 282.35,116.64 282.85,116.57 283.34,116.50 283.84,116.43 284.34,116.37 284.84,116.31 285.33,116.26 285.83,116.22 286.33,116.19 286.83,116.16 287.32,116.15 287.82,116.15 288.32,116.16 288.82,116.18 289.31,116.21 289.81,116.25 290.31,116.30 290.81,116.36 291.30,116.42 291.80,116.49" fill="none" stroke="#50505e" stroke-width="1.0"/>
<polyline points="232.60,121.53 233.10,121.50 233.59,121.46 234.09,121.41 234.59,121.36 235.09,121.30 235.58,121.23 236.08,121.17 236.58,121.10 237.08,121.03 237.57,120.96 238.07,120.89 238.57,120.83 239.07,120.78 239.56,120.73 240.06,120.70 240.56,120.67 241.06,120.66 241.55,120.65 242.05,120.66 242.55,120.67 243.05,120.70 243.54,120.74 244.04,120.78 244.54,120.83 245.04,120.89 245.53,120.96 246.03,121.03 246.53,121.10 247.03,121.17 247.52,121.24 248.02,121.30 248.52,121.36 249.02,121.41 249.51,121.46 250.01,121.50 250.51,121.53 251.01,121.54 251.50,121.55 252.00,121.55 252.50,121.53 253.00,121.50 253.49,121.47 253.99,121.42 254.49,121.37 254.99,121.31 255.48,121.25 255.98,121.18 256.48,121.11 256.98,121.04 257.47,120.97 257.97,120.91 258.47,120.85 258.97,120.79 259.46,120.74 259.96,120.71 260.46,120.68 260.96,120.66 261.45,120.65 261.95,120.65 262.45,120.67 262.95,120.69 263.44,120.73 263.94,120.77 264.44,120.82 264.94,120.88 265.43,120.95 265.93,121.01 266.43,121.08 266.93,121.15 267.42,121.22 267.92,121.29 268.42,121.35 268.92,121.40 269.41,121.45 269.91,121.49 270.41,121.52 270.91,121.54 271.40,121.55 271.90,121.55 272.40,121.53 272.90,121.51 273.39,121.48 273.89,121.43 274.39,121.38 274.89,121.32 275.38,121.26 275.88,121.19 276.38,121.12 276.88,121.05 277.37,120.99 277.87,120.92 278.37,120.86 278.87,120.80 279.36,120.75 279.86,120.71 280.36,120.68 280.86,120.66 281.35,120.65 281.85,120.65 282.35,120.66 282.85,120.69 283.34,120.72 283.84,120.76 284.34,120.81 284.84,120.87 285.33,120.93 285.83,121.00 286.33,121.07 286.83,121.14 287.32,121.21 287.82,121.27 288.32,121.34 288.82,121.39 289.31,121.44 289.81,121.48 290.31,121.52 290.81,121.54 291.30,121.55 291.80,121.55" fill="none" stroke="#50505e" stroke-width="1.0"/>
<polyline points="232.60,125.12 233.10,125.07 233.59,125.03 234.09,124.99 234.59,124.97 235.09,124.95 235.58,124.95 236.08,124.96 236.58,124.98 237.08,125.00 237.57,125.04 238.07,125.09 238.57,125.14 239.07,125.20 239.56,125.27 240.06,125.34 240.56,125.41 241.06,125.48 241.55,125.55 242.05,125.61 242.55,125.67 243.05,125.72 243.54,125.77 244.04,125.80 244.54,125.83 245.04,125.85 245.53,125.85 246.03,125.84 246.53,125.83 247.03,125.80 247.52,125.76 248.02,125.72 248.52,125.66 249.02,125.60 249.51,125.54 250.01,125.47 250.51,125.40 251.01,125.33 251.50,125.26 252.00,125.20 252.50,125.14 253.00,125.08 253.49,125.04 253.99,125.00 254.49,124.97 254.99,124.96 255.48,124.95 255.98,124.96 256.48,124.97 256.98,125.00 257.47,125.03 257.97,125.08 258.47,125.13 258.97,125.19 259.46,125.26 259.96,125.32 260.46,125.39 260.96,125.46 261.45,125.53 261.95,125.60 262.45,125.66 262.95,125.71 263.44,125.76 263.94,125.80 264.44,125.83 264.94,125.84 265.43,125.85 265.93,125.85 266.43,125.83 266.93,125.81 267.42,125.77 267.92,125.73 268.42,125.67 268.92,125.62 269.41,125.55 269.91,125.48 270.41,125.41 270.91,125.34 271.40,125.27 271.90,125.21 272.40,125.15 272.90,125.09 273.39,125.05 273.89,125.01 274.39,124.98 274.89,124.96 275.38,124.95 275.88,124.95 276.38,124.97 276.88,124.99 277.37,125.03 277.87,125.07 278.37,125.12 278.87,125.18 279.36,125.24 279.86,125.31 280.36,125.38 280.86,125.45 281.35,125.52 281.85,125.58 282.35,125.65 282.85,125.70 283.34,125.75 283.84,125.79 284.34,125.82 284.84,125.84 285.33,125.85 285.83,125.85 286.33,125.84 286.83,125.81 287.32,125.78 287.82,125.74 288.32,125.69 288.82,125.63 289.31,125.56 289.81,125.50 290.31,125.43 290.81,125.36 291.30,125.29 291.80,125.22" fill="none" stroke="#50505e" stroke-width="1.0"/>
<polyline points="243.88,115.00 244.24,115.48 244.27,115.96 243.97,116.44 243.47,116.92 242.98,117.40 242.71,117.88 242.79,118.36 243.17,118.84 243.70,119.32 244.14,119.80 244.30,120.28 244.12,120.76 243.67,121.24 243.15,121.72 242.78,122.20 242.72,122.68 243.00,123.16 243.50,123.64 244.00,124.12 244.28,124.60 244.22,125.08 243.86,125.56 243.34,126.04 242.88,126.52 242.70,127.00" fill="none" stroke="#454552" stroke-width="0.9"/>
<polyline points="261.18,115.00 261.54,115.48 261.57,115.96 261.27,116.44 260.77,116.92 260.28,117.40 260.01,117.88 260.09,118.36 260.47,118.84 261.00,119.32 261.44,119.80 261.60,120.28 261.42,120.76 260.97,121.24 260.45,121.72 260.08,122.20 260.02,122.68 260.30,123.16 260.80,123.64 261.30,124.12 261.58,124.60 261.52,125.08 261.16,125.56 260.64,126.04 260.18,126.52 260.00,127.00" fill="none" stroke="#454552" stroke-width="0.9"/>
<polyline points="278.58,115.00 278.94,115.48 278.97,115.96 278.67,116.44 278.17,116.92 277.68,117.40 277.41,117.88 277.49,118.36 277.87,118.84 278.40,119.32 278.84,119.80 279.00,120.28 278.82,120.76 278.37,121.24 277.85,121.72 277.48,122.20 277.42,122.68 277.70,123.16 278.20,123.64 278.70,124.12 278.98,124.60 278.92,125.08 278.56,125.56 278.04,126.04 277.58,126.52 277.40,127.00" fill="none" stroke="#454552" stroke-width="0.9"/>
<circle cx="243.5" cy="116.6" r="1.1" fill="#7a44dc"/>
<circle cx="243.5" cy="125.4" r="1.1" fill="#7a44dc"/>
<circle cx="243.5" cy="121.1" r="1.9" fill="#b4d6f4" opacity="0.95"/>
<path d="M244.50,121.10 L246.10,121.10 M244.37,121.60 L245.75,122.40 M244.00,121.97 L244.80,123.35 M243.50,122.10 L243.50,123.70 M243.00,121.97 L242.20,123.35 M242.63,121.60 L241.25,122.40 M242.50,121.10 L240.90,121.10 M242.63,120.60 L241.25,119.80 M243.00,120.23 L242.20,118.85 M243.50,120.10 L243.50,118.50 M244.00,120.23 L244.80,118.85 M244.37,120.60 L245.75,119.80" stroke="#84bcea" stroke-width="0.6" fill="none"/>
<circle cx="243.5" cy="121.1" r="1.0" fill="#e9606a"/>
<circle cx="278.2" cy="116.6" r="1.1" fill="#7a44dc"/>
<circle cx="278.2" cy="125.4" r="1.1" fill="#7a44dc"/>
<circle cx="278.2" cy="121.1" r="1.9" fill="#b4d6f4" opacity="0.95"/>
<path d="M279.20,121.10 L280.80,121.10 M279.07,121.60 L280.45,122.40 M278.70,121.97 L279.50,123.35 M278.20,122.10 L278.20,123.70 M277.70,121.97 L276.90,123.35 M277.33,121.60 L275.95,122.40 M277.20,121.10 L275.60,121.10 M277.33,120.60 L275.95,119.80 M277.70,120.23 L276.90,118.85 M278.20,120.10 L278.20,118.50 M278.70,120.23 L279.50,118.85 M279.07,120.60 L280.45,119.80" stroke="#84bcea" stroke-width="0.6" fill="none"/>
<circle cx="278.2" cy="121.1" r="1.0" fill="#e9606a"/>
<circle cx="260.8" cy="116.6" r="1.9" fill="#b4d6f4" opacity="0.95"/>
<path d="M261.80,116.60 L263.40,116.60 M261.67,117.10 L263.05,117.90 M261.30,117.47 L262.10,118.85 M260.80,117.60 L260.80,119.20 M260.30,117.47 L259.50,118.85 M259.93,117.10 L258.55,117.90 M259.80,116.60 L258.20,116.60 M259.93,116.10 L258.55,115.30 M260.30,115.73 L259.50,114.35 M260.80,115.60 L260.80,114.00 M261.30,115.73 L262.10,114.35 M261.67,116.10 L263.05,115.30" stroke="#84bcea" stroke-width="0.6" fill="none"/>
<circle cx="260.8" cy="116.6" r="1.0" fill="#e9606a"/>
<circle cx="260.8" cy="121.1" r="1.1" fill="#7a44dc"/>
<circle cx="260.8" cy="125.4" r="1.9" fill="#b4d6f4" opacity="0.95"/>
<path d="M261.80,125.40 L263.40,125.40 M261.67,125.90 L263.05,126.70 M261.30,126.27 L262.10,127.65 M260.80,126.40 L260.80,128.00 M260.30,126.27 L259.50,127.65 M259.93,125.90 L258.55,126.70 M259.80,125.40 L258.20,125.40 M259.93,124.90 L258.55,124.10 M260.30,124.53 L259.50,123.15 M260.80,124.40 L260.80,122.80 M261.30,124.53 L262.10,123.15 M261.67,124.90 L263.05,124.10" stroke="#84bcea" stroke-width="0.6" fill="none"/>
<circle cx="260.8" cy="125.4" r="1.0" fill="#e9606a"/>
<path d="M262.2,139.7 L262.2,131.9 L261.0,131.9 L264,128.8 L267.0,131.9 L265.8,131.9 L265.8,139.7 Z" fill="#7b5a12"/>
<text x="269.60" y="138.00" font-size="7" text-anchor="start" font-weight="bold" fill="#1a1a1a" >F</text>
<path d="M31.1,151.6 C34,147.5 37,148.5 38.5,150.3 C40,152 42.5,152.8 45.4,149.4" fill="none" stroke="#333" stroke-width="0.9"/>
<text x="50.00" y="152.80" font-size="6.2" text-anchor="start" font-weight="bold" fill="#222" textLength="32.5" lengthAdjust="spacingAndGlyphs" >PolySBMA</text>
<circle cx="91.2" cy="150.5" r="2.6" fill="#b4d6f4" opacity="0.95"/>
<path d="M93.10,150.50 L95.30,150.50 M92.85,151.45 L94.75,152.55 M92.15,152.15 L93.25,154.05 M91.20,152.40 L91.20,154.60 M90.25,152.15 L89.15,154.05 M89.55,151.45 L87.65,152.55 M89.30,150.50 L87.10,150.50 M89.55,149.55 L87.65,148.45 M90.25,148.85 L89.15,146.95 M91.20,148.60 L91.20,146.40 M92.15,148.85 L93.25,146.95 M92.85,149.55 L94.75,148.45" stroke="#84bcea" stroke-width="0.6" fill="none"/>
<circle cx="91.2" cy="150.5" r="1.9" fill="#e9606a"/>
<text x="99.90" y="152.80" font-size="6.2" text-anchor="start" font-weight="bold" fill="#222" textLength="92.4" lengthAdjust="spacingAndGlyphs" >Drug-loaded F127DA micelles</text>
<circle cx="197.7" cy="150.9" r="1.9" fill="#9a5cf0"/>
<text x="207.20" y="152.80" font-size="6.2" text-anchor="start" font-weight="bold" fill="#222" textLength="18.6" lengthAdjust="spacingAndGlyphs" >MBAA</text>
<g class="c">
<text x="356.40" y="13.20" font-size="11" text-anchor="start" font-weight="bold" fill="#000" textLength="7.2" lengthAdjust="spacingAndGlyphs" stroke="#000" stroke-width="0.35">B</text>
<line x1="392.59999999999997" y1="129.10" x2="395.2" y2="129.10" stroke="#6e6e6e" stroke-width="0.8"/>
<text x="390.90" y="132.00" font-size="8" text-anchor="end" font-weight="normal" fill="#222" >0</text>
<line x1="392.59999999999997" y1="112.00" x2="395.2" y2="112.00" stroke="#6e6e6e" stroke-width="0.8"/>
<text x="390.90" y="114.90" font-size="8" text-anchor="end" font-weight="normal" fill="#222" >5</text>
<line x1="392.59999999999997" y1="94.90" x2="395.2" y2="94.90" stroke="#6e6e6e" stroke-width="0.8"/>
<text x="390.90" y="97.80" font-size="8" text-anchor="end" font-weight="normal" fill="#222" >10</text>
<line x1="392.59999999999997" y1="77.80" x2="395.2" y2="77.80" stroke="#6e6e6e" stroke-width="0.8"/>
<text x="390.90" y="80.70" font-size="8" text-anchor="end" font-weight="normal" fill="#222" >15</text>
<line x1="392.59999999999997" y1="60.70" x2="395.2" y2="60.70" stroke="#6e6e6e" stroke-width="0.8"/>
<text x="390.90" y="63.60" font-size="8" text-anchor="end" font-weight="normal" fill="#222" >20</text>
<line x1="392.59999999999997" y1="43.60" x2="395.2" y2="43.60" stroke="#6e6e6e" stroke-width="0.8"/>
<text x="390.90" y="46.50" font-size="8" text-anchor="end" font-weight="normal" fill="#222" >25</text>
<line x1="392.59999999999997" y1="26.50" x2="395.2" y2="26.50" stroke="#6e6e6e" stroke-width="0.8"/>
<text x="390.90" y="29.40" font-size="8" text-anchor="end" font-weight="normal" fill="#222" >30</text>
<line x1="400.50" y1="132.3" x2="400.50" y2="134.9" stroke="#6e6e6e" stroke-width="0.8"/>
<text x="400.50" y="143.60" font-size="8" text-anchor="middle" font-weight="normal" fill="#222" >0</text>
<line x1="425.50" y1="132.3" x2="425.50" y2="134.9" stroke="#6e6e6e" stroke-width="0.8"/>
<text x="425.50" y="143.60" font-size="8" text-anchor="middle" font-weight="normal" fill="#222" >50</text>
<line x1="450.50" y1="132.3" x2="450.50" y2="134.9" stroke="#6e6e6e" stroke-width="0.8"/>
<text x="450.50" y="143.60" font-size="8" text-anchor="middle" font-weight="normal" fill="#222" >100</text>
<line x1="475.50" y1="132.3" x2="475.50" y2="134.9" stroke="#6e6e6e" stroke-width="0.8"/>
<text x="475.50" y="143.60" font-size="8" text-anchor="middle" font-weight="normal" fill="#222" >150</text>
<line x1="500.50" y1="132.3" x2="500.50" y2="134.9" stroke="#6e6e6e" stroke-width="0.8"/>
<text x="500.50" y="143.60" font-size="8" text-anchor="middle" font-weight="normal" fill="#222" >200</text>
<line x1="525.50" y1="132.3" x2="525.50" y2="134.9" stroke="#6e6e6e" stroke-width="0.8"/>
<text x="525.50" y="143.60" font-size="8" text-anchor="middle" font-weight="normal" fill="#222" >250</text>
<rect x="395.2" y="17.8" width="142.59999999999997" height="114.50000000000001" fill="none" stroke="#6e6e6e" stroke-width="1"/>
<line x1="425.50" y1="118.50" x2="425.50" y2="119.87" stroke="#888" stroke-width="0.6"/>
<line x1="424.20" y1="118.50" x2="426.80" y2="118.50" stroke="#888" stroke-width="0.6"/>
<line x1="424.20" y1="119.87" x2="426.80" y2="119.87" stroke="#888" stroke-width="0.6"/>
<line x1="450.50" y1="108.92" x2="450.50" y2="112.34" stroke="#888" stroke-width="0.6"/>
<line x1="449.20" y1="108.92" x2="451.80" y2="108.92" stroke="#888" stroke-width="0.6"/>
<line x1="449.20" y1="112.34" x2="451.80" y2="112.34" stroke="#888" stroke-width="0.6"/>
<line x1="475.50" y1="103.45" x2="475.50" y2="105.50" stroke="#888" stroke-width="0.6"/>
<line x1="474.20" y1="103.45" x2="476.80" y2="103.45" stroke="#888" stroke-width="0.6"/>
<line x1="474.20" y1="105.50" x2="476.80" y2="105.50" stroke="#888" stroke-width="0.6"/>
<line x1="500.50" y1="99.00" x2="500.50" y2="101.06" stroke="#888" stroke-width="0.6"/>
<line x1="499.20" y1="99.00" x2="501.80" y2="99.00" stroke="#888" stroke-width="0.6"/>
<line x1="499.20" y1="101.06" x2="501.80" y2="101.06" stroke="#888" stroke-width="0.6"/>
<line x1="525.50" y1="94.56" x2="525.50" y2="96.61" stroke="#888" stroke-width="0.6"/>
<line x1="524.20" y1="94.56" x2="526.80" y2="94.56" stroke="#888" stroke-width="0.6"/>
<line x1="524.20" y1="96.61" x2="526.80" y2="96.61" stroke="#888" stroke-width="0.6"/>
<polyline points="400.50,129.10 425.50,119.18 450.50,110.63 475.50,104.48 500.50,100.03 525.50,95.58" fill="none" stroke="#111111" stroke-width="1.25"/>
<circle cx="400.50" cy="129.10" r="1.65" fill="#111111"/>
<circle cx="425.50" cy="119.18" r="1.65" fill="#111111"/>
<circle cx="450.50" cy="110.63" r="1.65" fill="#111111"/>
<circle cx="475.50" cy="104.48" r="1.65" fill="#111111"/>
<circle cx="500.50" cy="100.03" r="1.65" fill="#111111"/>
<circle cx="525.50" cy="95.58" r="1.65" fill="#111111"/>
<line x1="425.50" y1="102.77" x2="425.50" y2="108.92" stroke="#f0a0a0" stroke-width="0.6"/>
<line x1="424.20" y1="102.77" x2="426.80" y2="102.77" stroke="#f0a0a0" stroke-width="0.6"/>
<line x1="424.20" y1="108.92" x2="426.80" y2="108.92" stroke="#f0a0a0" stroke-width="0.6"/>
<line x1="450.50" y1="88.40" x2="450.50" y2="100.03" stroke="#f0a0a0" stroke-width="0.6"/>
<line x1="449.20" y1="88.40" x2="451.80" y2="88.40" stroke="#f0a0a0" stroke-width="0.6"/>
<line x1="449.20" y1="100.03" x2="451.80" y2="100.03" stroke="#f0a0a0" stroke-width="0.6"/>
<line x1="475.50" y1="77.80" x2="475.50" y2="90.80" stroke="#f0a0a0" stroke-width="0.6"/>
<line x1="474.20" y1="77.80" x2="476.80" y2="77.80" stroke="#f0a0a0" stroke-width="0.6"/>
<line x1="474.20" y1="90.80" x2="476.80" y2="90.80" stroke="#f0a0a0" stroke-width="0.6"/>
<line x1="500.50" y1="68.91" x2="500.50" y2="82.59" stroke="#f0a0a0" stroke-width="0.6"/>
<line x1="499.20" y1="68.91" x2="501.80" y2="68.91" stroke="#f0a0a0" stroke-width="0.6"/>
<line x1="499.20" y1="82.59" x2="501.80" y2="82.59" stroke="#f0a0a0" stroke-width="0.6"/>
<line x1="525.50" y1="61.04" x2="525.50" y2="74.04" stroke="#f0a0a0" stroke-width="0.6"/>
<line x1="524.20" y1="61.04" x2="526.80" y2="61.04" stroke="#f0a0a0" stroke-width="0.6"/>
<line x1="524.20" y1="74.04" x2="526.80" y2="74.04" stroke="#f0a0a0" stroke-width="0.6"/>
<polyline points="400.50,129.10 425.50,105.84 450.50,94.22 475.50,84.30 500.50,75.75 525.50,67.54" fill="none" stroke="#e3131b" stroke-width="1.25"/>
<circle cx="400.50" cy="129.10" r="1.65" fill="#e3131b"/>
<circle cx="425.50" cy="105.84" r="1.65" fill="#e3131b"/>
<circle cx="450.50" cy="94.22" r="1.65" fill="#e3131b"/>
<circle cx="475.50" cy="84.30" r="1.65" fill="#e3131b"/>
<circle cx="500.50" cy="75.75" r="1.65" fill="#e3131b"/>
<circle cx="525.50" cy="67.54" r="1.65" fill="#e3131b"/>
<line x1="425.50" y1="97.29" x2="425.50" y2="106.19" stroke="#a8a8e8" stroke-width="0.6"/>
<line x1="424.20" y1="97.29" x2="426.80" y2="97.29" stroke="#a8a8e8" stroke-width="0.6"/>
<line x1="424.20" y1="106.19" x2="426.80" y2="106.19" stroke="#a8a8e8" stroke-width="0.6"/>
<line x1="450.50" y1="77.63" x2="450.50" y2="93.70" stroke="#a8a8e8" stroke-width="0.6"/>
<line x1="449.20" y1="77.63" x2="451.80" y2="77.63" stroke="#a8a8e8" stroke-width="0.6"/>
<line x1="449.20" y1="93.70" x2="451.80" y2="93.70" stroke="#a8a8e8" stroke-width="0.6"/>
<line x1="475.50" y1="64.46" x2="475.50" y2="81.56" stroke="#a8a8e8" stroke-width="0.6"/>
<line x1="474.20" y1="64.46" x2="476.80" y2="64.46" stroke="#a8a8e8" stroke-width="0.6"/>
<line x1="474.20" y1="81.56" x2="476.80" y2="81.56" stroke="#a8a8e8" stroke-width="0.6"/>
<line x1="500.50" y1="45.31" x2="500.50" y2="72.67" stroke="#a8a8e8" stroke-width="0.6"/>
<line x1="499.20" y1="45.31" x2="501.80" y2="45.31" stroke="#a8a8e8" stroke-width="0.6"/>
<line x1="499.20" y1="72.67" x2="501.80" y2="72.67" stroke="#a8a8e8" stroke-width="0.6"/>
<line x1="525.50" y1="31.29" x2="525.50" y2="64.12" stroke="#a8a8e8" stroke-width="0.6"/>
<line x1="524.20" y1="31.29" x2="526.80" y2="31.29" stroke="#a8a8e8" stroke-width="0.6"/>
<line x1="524.20" y1="64.12" x2="526.80" y2="64.12" stroke="#a8a8e8" stroke-width="0.6"/>
<polyline points="400.50,129.10 425.50,101.74 450.50,85.67 475.50,73.01 500.50,58.99 525.50,47.70" fill="none" stroke="#1a1ad0" stroke-width="1.25"/>
<path d="M400.50,127.12 L402.31,130.42 L398.69,130.42 Z" fill="#1a1ad0"/>
<path d="M425.50,99.76 L427.31,103.06 L423.69,103.06 Z" fill="#1a1ad0"/>
<path d="M450.50,83.69 L452.31,86.99 L448.69,86.99 Z" fill="#1a1ad0"/>
<path d="M475.50,71.03 L477.31,74.33 L473.69,74.33 Z" fill="#1a1ad0"/>
<path d="M500.50,57.01 L502.31,60.31 L498.69,60.31 Z" fill="#1a1ad0"/>
<path d="M525.50,45.72 L527.32,49.02 L523.68,49.02 Z" fill="#1a1ad0"/>
<line x1="397.2" y1="24" x2="414.2" y2="24" stroke="#111111" stroke-width="1.1"/>
<circle cx="405.7" cy="24" r="1.5" fill="#111111"/>
<text x="452.20" y="26.70" font-size="7.5" text-anchor="end" font-weight="normal" fill="#222" >0% strain</text>
<line x1="397.2" y1="33.1" x2="414.2" y2="33.1" stroke="#e3131b" stroke-width="1.1"/>
<circle cx="405.7" cy="33.1" r="1.5" fill="#e3131b"/>
<text x="452.20" y="35.80" font-size="7.5" text-anchor="end" font-weight="normal" fill="#222" >60% strain</text>
<line x1="397.2" y1="42.2" x2="414.2" y2="42.2" stroke="#1a1ad0" stroke-width="1.1"/>
<path d="M405.70,40.40 L407.35,43.40 L404.05,43.40 Z" fill="#1a1ad0"/>
<text x="452.20" y="44.90" font-size="7.5" text-anchor="end" font-weight="normal" fill="#222" >80% strain</text>
<text transform="translate(379.2,75.4) rotate(-90)" x="0" y="0" font-size="9.1" text-anchor="middle" fill="#222" textLength="98.5" lengthAdjust="spacingAndGlyphs">Cumulative Release (%)</text>
<text x="466.80" y="156.90" font-size="9.2" text-anchor="middle" font-weight="normal" fill="#222" textLength="58" lengthAdjust="spacingAndGlyphs" >Tensile Cycles</text>
<text x="4.40" y="172.40" font-size="11" text-anchor="start" font-weight="bold" fill="#000" textLength="7.8" lengthAdjust="spacingAndGlyphs" stroke="#000" stroke-width="0.35">C</text>
<line x1="40.4" y1="285.80" x2="43.0" y2="285.80" stroke="#6e6e6e" stroke-width="0.8"/>
<text x="38.80" y="288.70" font-size="8" text-anchor="end" font-weight="normal" fill="#222" >0</text>
<line x1="40.4" y1="269.50" x2="43.0" y2="269.50" stroke="#6e6e6e" stroke-width="0.8"/>
<text x="38.80" y="272.40" font-size="8" text-anchor="end" font-weight="normal" fill="#222" >2</text>
<line x1="40.4" y1="253.20" x2="43.0" y2="253.20" stroke="#6e6e6e" stroke-width="0.8"/>
<text x="38.80" y="256.10" font-size="8" text-anchor="end" font-weight="normal" fill="#222" >4</text>
<line x1="40.4" y1="236.90" x2="43.0" y2="236.90" stroke="#6e6e6e" stroke-width="0.8"/>
<text x="38.80" y="239.80" font-size="8" text-anchor="end" font-weight="normal" fill="#222" >6</text>
<line x1="40.4" y1="220.60" x2="43.0" y2="220.60" stroke="#6e6e6e" stroke-width="0.8"/>
<text x="38.80" y="223.50" font-size="8" text-anchor="end" font-weight="normal" fill="#222" >8</text>
<line x1="40.4" y1="204.30" x2="43.0" y2="204.30" stroke="#6e6e6e" stroke-width="0.8"/>
<text x="38.80" y="207.20" font-size="8" text-anchor="end" font-weight="normal" fill="#222" >10</text>
<line x1="40.4" y1="188.00" x2="43.0" y2="188.00" stroke="#6e6e6e" stroke-width="0.8"/>
<text x="38.80" y="190.90" font-size="8" text-anchor="end" font-weight="normal" fill="#222" >12</text>
<line x1="40.4" y1="171.70" x2="43.0" y2="171.70" stroke="#6e6e6e" stroke-width="0.8"/>
<text x="38.80" y="174.60" font-size="8" text-anchor="end" font-weight="normal" fill="#222" >14</text>
<line x1="41.4" y1="277.65" x2="43.0" y2="277.65" stroke="#6e6e6e" stroke-width="0.7"/>
<line x1="41.4" y1="261.35" x2="43.0" y2="261.35" stroke="#6e6e6e" stroke-width="0.7"/>
<line x1="41.4" y1="245.05" x2="43.0" y2="245.05" stroke="#6e6e6e" stroke-width="0.7"/>
<line x1="41.4" y1="228.75" x2="43.0" y2="228.75" stroke="#6e6e6e" stroke-width="0.7"/>
<line x1="41.4" y1="212.45" x2="43.0" y2="212.45" stroke="#6e6e6e" stroke-width="0.7"/>
<line x1="41.4" y1="196.15" x2="43.0" y2="196.15" stroke="#6e6e6e" stroke-width="0.7"/>
<line x1="41.4" y1="179.85" x2="43.0" y2="179.85" stroke="#6e6e6e" stroke-width="0.7"/>
<line x1="44.10" y1="287.0" x2="44.10" y2="289.6" stroke="#6e6e6e" stroke-width="0.8"/>
<text x="44.10" y="297.90" font-size="8" text-anchor="middle" font-weight="normal" fill="#222" >0</text>
<line x1="69.76" y1="287.0" x2="69.76" y2="289.6" stroke="#6e6e6e" stroke-width="0.8"/>
<text x="69.76" y="297.90" font-size="8" text-anchor="middle" font-weight="normal" fill="#222" >40</text>
<line x1="95.42" y1="287.0" x2="95.42" y2="289.6" stroke="#6e6e6e" stroke-width="0.8"/>
<text x="95.42" y="297.90" font-size="8" text-anchor="middle" font-weight="normal" fill="#222" >80</text>
<line x1="121.08" y1="287.0" x2="121.08" y2="289.6" stroke="#6e6e6e" stroke-width="0.8"/>
<text x="121.08" y="297.90" font-size="8" text-anchor="middle" font-weight="normal" fill="#222" >120</text>
<line x1="146.74" y1="287.0" x2="146.74" y2="289.6" stroke="#6e6e6e" stroke-width="0.8"/>
<text x="146.74" y="297.90" font-size="8" text-anchor="middle" font-weight="normal" fill="#222" >160</text>
<line x1="172.40" y1="287.0" x2="172.40" y2="289.6" stroke="#6e6e6e" stroke-width="0.8"/>
<text x="172.40" y="297.90" font-size="8" text-anchor="middle" font-weight="normal" fill="#222" >200</text>
<rect x="43.0" y="170.7" width="145.5" height="116.30000000000001" fill="none" stroke="#6e6e6e" stroke-width="1"/>
<line x1="69.76" y1="281.56" x2="69.76" y2="282.38" stroke="#888" stroke-width="0.6"/>
<line x1="68.46" y1="281.56" x2="71.06" y2="281.56" stroke="#888" stroke-width="0.6"/>
<line x1="68.46" y1="282.38" x2="71.06" y2="282.38" stroke="#888" stroke-width="0.6"/>
<line x1="95.42" y1="279.93" x2="95.42" y2="280.75" stroke="#888" stroke-width="0.6"/>
<line x1="94.12" y1="279.93" x2="96.72" y2="279.93" stroke="#888" stroke-width="0.6"/>
<line x1="94.12" y1="280.75" x2="96.72" y2="280.75" stroke="#888" stroke-width="0.6"/>
<line x1="121.08" y1="278.30" x2="121.08" y2="279.12" stroke="#888" stroke-width="0.6"/>
<line x1="119.78" y1="278.30" x2="122.38" y2="278.30" stroke="#888" stroke-width="0.6"/>
<line x1="119.78" y1="279.12" x2="122.38" y2="279.12" stroke="#888" stroke-width="0.6"/>
<line x1="146.74" y1="276.35" x2="146.74" y2="277.65" stroke="#888" stroke-width="0.6"/>
<line x1="145.44" y1="276.35" x2="148.04" y2="276.35" stroke="#888" stroke-width="0.6"/>
<line x1="145.44" y1="277.65" x2="148.04" y2="277.65" stroke="#888" stroke-width="0.6"/>
<line x1="172.40" y1="275.45" x2="172.40" y2="276.75" stroke="#888" stroke-width="0.6"/>
<line x1="171.10" y1="275.45" x2="173.70" y2="275.45" stroke="#888" stroke-width="0.6"/>
<line x1="171.10" y1="276.75" x2="173.70" y2="276.75" stroke="#888" stroke-width="0.6"/>
<polyline points="44.10,285.80 69.76,281.97 95.42,280.34 121.08,278.71 146.74,277.00 172.40,276.10" fill="none" stroke="#111111" stroke-width="1.25"/>
<circle cx="44.10" cy="285.80" r="1.65" fill="#111111"/>
<circle cx="69.76" cy="281.97" r="1.65" fill="#111111"/>
<circle cx="95.42" cy="280.34" r="1.65" fill="#111111"/>
<circle cx="121.08" cy="278.71" r="1.65" fill="#111111"/>
<circle cx="146.74" cy="277.00" r="1.65" fill="#111111"/>
<circle cx="172.40" cy="276.10" r="1.65" fill="#111111"/>
<line x1="69.76" y1="278.06" x2="69.76" y2="279.69" stroke="#f0a0a0" stroke-width="0.6"/>
<line x1="68.46" y1="278.06" x2="71.06" y2="278.06" stroke="#f0a0a0" stroke-width="0.6"/>
<line x1="68.46" y1="279.69" x2="71.06" y2="279.69" stroke="#f0a0a0" stroke-width="0.6"/>
<line x1="95.42" y1="272.92" x2="95.42" y2="274.88" stroke="#f0a0a0" stroke-width="0.6"/>
<line x1="94.12" y1="272.92" x2="96.72" y2="272.92" stroke="#f0a0a0" stroke-width="0.6"/>
<line x1="94.12" y1="274.88" x2="96.72" y2="274.88" stroke="#f0a0a0" stroke-width="0.6"/>
<line x1="121.08" y1="268.93" x2="121.08" y2="270.89" stroke="#f0a0a0" stroke-width="0.6"/>
<line x1="119.78" y1="268.93" x2="122.38" y2="268.93" stroke="#f0a0a0" stroke-width="0.6"/>
<line x1="119.78" y1="270.89" x2="122.38" y2="270.89" stroke="#f0a0a0" stroke-width="0.6"/>
<line x1="146.74" y1="265.75" x2="146.74" y2="269.01" stroke="#f0a0a0" stroke-width="0.6"/>
<line x1="145.44" y1="265.75" x2="148.04" y2="265.75" stroke="#f0a0a0" stroke-width="0.6"/>
<line x1="145.44" y1="269.01" x2="148.04" y2="269.01" stroke="#f0a0a0" stroke-width="0.6"/>
<line x1="172.40" y1="262.65" x2="172.40" y2="267.54" stroke="#f0a0a0" stroke-width="0.6"/>
<line x1="171.10" y1="262.65" x2="173.70" y2="262.65" stroke="#f0a0a0" stroke-width="0.6"/>
<line x1="171.10" y1="267.54" x2="173.70" y2="267.54" stroke="#f0a0a0" stroke-width="0.6"/>
<polyline points="44.10,285.80 69.76,278.87 95.42,273.90 121.08,269.91 146.74,267.38 172.40,265.10" fill="none" stroke="#e3131b" stroke-width="1.25"/>
<circle cx="44.10" cy="285.80" r="1.65" fill="#e3131b"/>
<circle cx="69.76" cy="278.87" r="1.65" fill="#e3131b"/>
<circle cx="95.42" cy="273.90" r="1.65" fill="#e3131b"/>
<circle cx="121.08" cy="269.91" r="1.65" fill="#e3131b"/>
<circle cx="146.74" cy="267.38" r="1.65" fill="#e3131b"/>
<circle cx="172.40" cy="265.10" r="1.65" fill="#e3131b"/>
<line x1="69.76" y1="263.39" x2="69.76" y2="274.80" stroke="#a8a8e8" stroke-width="0.6"/>
<line x1="68.46" y1="263.39" x2="71.06" y2="263.39" stroke="#a8a8e8" stroke-width="0.6"/>
<line x1="68.46" y1="274.80" x2="71.06" y2="274.80" stroke="#a8a8e8" stroke-width="0.6"/>
<line x1="95.42" y1="247.50" x2="95.42" y2="260.54" stroke="#a8a8e8" stroke-width="0.6"/>
<line x1="94.12" y1="247.50" x2="96.72" y2="247.50" stroke="#a8a8e8" stroke-width="0.6"/>
<line x1="94.12" y1="260.54" x2="96.72" y2="260.54" stroke="#a8a8e8" stroke-width="0.6"/>
<line x1="121.08" y1="230.79" x2="121.08" y2="251.98" stroke="#a8a8e8" stroke-width="0.6"/>
<line x1="119.78" y1="230.79" x2="122.38" y2="230.79" stroke="#a8a8e8" stroke-width="0.6"/>
<line x1="119.78" y1="251.98" x2="122.38" y2="251.98" stroke="#a8a8e8" stroke-width="0.6"/>
<line x1="146.74" y1="215.71" x2="146.74" y2="236.90" stroke="#a8a8e8" stroke-width="0.6"/>
<line x1="145.44" y1="215.71" x2="148.04" y2="215.71" stroke="#a8a8e8" stroke-width="0.6"/>
<line x1="145.44" y1="236.90" x2="148.04" y2="236.90" stroke="#a8a8e8" stroke-width="0.6"/>
<line x1="172.40" y1="204.71" x2="172.40" y2="229.16" stroke="#a8a8e8" stroke-width="0.6"/>
<line x1="171.10" y1="204.71" x2="173.70" y2="204.71" stroke="#a8a8e8" stroke-width="0.6"/>
<line x1="171.10" y1="229.16" x2="173.70" y2="229.16" stroke="#a8a8e8" stroke-width="0.6"/>
<polyline points="44.10,285.80 69.76,269.09 95.42,254.02 121.08,241.38 146.74,226.31 172.40,216.93" fill="none" stroke="#1a1ad0" stroke-width="1.25"/>
<circle cx="44.10" cy="285.80" r="1.65" fill="#1a1ad0"/>
<circle cx="69.76" cy="269.09" r="1.65" fill="#1a1ad0"/>
<circle cx="95.42" cy="254.02" r="1.65" fill="#1a1ad0"/>
<circle cx="121.08" cy="241.38" r="1.65" fill="#1a1ad0"/>
<circle cx="146.74" cy="226.31" r="1.65" fill="#1a1ad0"/>
<circle cx="172.40" cy="216.93" r="1.65" fill="#1a1ad0"/>
<line x1="69.76" y1="243.83" x2="69.76" y2="251.98" stroke="#c0a8d0" stroke-width="0.6"/>
<line x1="68.46" y1="243.83" x2="71.06" y2="243.83" stroke="#c0a8d0" stroke-width="0.6"/>
<line x1="68.46" y1="251.98" x2="71.06" y2="251.98" stroke="#c0a8d0" stroke-width="0.6"/>
<line x1="95.42" y1="225.49" x2="95.42" y2="245.05" stroke="#c0a8d0" stroke-width="0.6"/>
<line x1="94.12" y1="225.49" x2="96.72" y2="225.49" stroke="#c0a8d0" stroke-width="0.6"/>
<line x1="94.12" y1="245.05" x2="96.72" y2="245.05" stroke="#c0a8d0" stroke-width="0.6"/>
<line x1="121.08" y1="206.75" x2="121.08" y2="242.61" stroke="#c0a8d0" stroke-width="0.6"/>
<line x1="119.78" y1="206.75" x2="122.38" y2="206.75" stroke="#c0a8d0" stroke-width="0.6"/>
<line x1="119.78" y1="242.61" x2="122.38" y2="242.61" stroke="#c0a8d0" stroke-width="0.6"/>
<line x1="146.74" y1="199.82" x2="146.74" y2="232.42" stroke="#c0a8d0" stroke-width="0.6"/>
<line x1="145.44" y1="199.82" x2="148.04" y2="199.82" stroke="#c0a8d0" stroke-width="0.6"/>
<line x1="145.44" y1="232.42" x2="148.04" y2="232.42" stroke="#c0a8d0" stroke-width="0.6"/>
<line x1="172.40" y1="197.78" x2="172.40" y2="223.86" stroke="#c0a8d0" stroke-width="0.6"/>
<line x1="171.10" y1="197.78" x2="173.70" y2="197.78" stroke="#c0a8d0" stroke-width="0.6"/>
<line x1="171.10" y1="223.86" x2="173.70" y2="223.86" stroke="#c0a8d0" stroke-width="0.6"/>
<polyline points="44.10,285.80 69.76,247.90 95.42,235.27 121.08,224.68 146.74,216.12 172.40,210.82" fill="none" stroke="#9126b8" stroke-width="1.25"/>
<circle cx="44.10" cy="285.80" r="1.65" fill="#9126b8"/>
<circle cx="69.76" cy="247.90" r="1.65" fill="#9126b8"/>
<circle cx="95.42" cy="235.27" r="1.65" fill="#9126b8"/>
<circle cx="121.08" cy="224.68" r="1.65" fill="#9126b8"/>
<circle cx="146.74" cy="216.12" r="1.65" fill="#9126b8"/>
<circle cx="172.40" cy="210.82" r="1.65" fill="#9126b8"/>
<line x1="45.8" y1="175.9" x2="62" y2="175.9" stroke="#111111" stroke-width="1.1"/>
<circle cx="53.8" cy="175.9" r="1.5" fill="#111111"/>
<text x="101.00" y="178.60" font-size="7.5" text-anchor="end" font-weight="normal" fill="#222" >0% strain</text>
<line x1="45.8" y1="185.2" x2="62" y2="185.2" stroke="#e3131b" stroke-width="1.1"/>
<circle cx="53.8" cy="185.2" r="1.5" fill="#e3131b"/>
<text x="101.00" y="187.90" font-size="7.5" text-anchor="end" font-weight="normal" fill="#222" >40% strain</text>
<line x1="45.8" y1="194.5" x2="62" y2="194.5" stroke="#1a1ad0" stroke-width="1.1"/>
<circle cx="53.8" cy="194.5" r="1.5" fill="#1a1ad0"/>
<text x="101.00" y="197.20" font-size="7.5" text-anchor="end" font-weight="normal" fill="#222" >50% strain</text>
<line x1="45.8" y1="204.1" x2="62" y2="204.1" stroke="#9126b8" stroke-width="1.1"/>
<circle cx="53.8" cy="204.1" r="1.5" fill="#9126b8"/>
<text x="101.00" y="206.80" font-size="7.5" text-anchor="end" font-weight="normal" fill="#222" >60% strain</text>
<text transform="translate(26.4,228.8) rotate(-90)" x="0" y="0" font-size="9.1" text-anchor="middle" fill="#222" textLength="100" lengthAdjust="spacingAndGlyphs">Cumulative Release (%)</text>
<text x="116.00" y="312.30" font-size="9.2" text-anchor="middle" font-weight="normal" fill="#222" textLength="84.5" lengthAdjust="spacingAndGlyphs" >Compressive Cycles</text>
<text x="193.00" y="172.10" font-size="11" text-anchor="start" font-weight="bold" fill="#000" textLength="7.0" lengthAdjust="spacingAndGlyphs" stroke="#000" stroke-width="0.35">D</text>
<line x1="222.1" y1="285.90" x2="224.7" y2="285.90" stroke="#6e6e6e" stroke-width="0.8"/>
<text x="220.60" y="288.80" font-size="8" text-anchor="end" font-weight="normal" fill="#222" >0</text>
<line x1="222.1" y1="253.23" x2="224.7" y2="253.23" stroke="#6e6e6e" stroke-width="0.8"/>
<text x="220.60" y="256.13" font-size="8" text-anchor="end" font-weight="normal" fill="#222" >10</text>
<line x1="222.1" y1="220.56" x2="224.7" y2="220.56" stroke="#6e6e6e" stroke-width="0.8"/>
<text x="220.60" y="223.46" font-size="8" text-anchor="end" font-weight="normal" fill="#222" >20</text>
<line x1="222.1" y1="187.89" x2="224.7" y2="187.89" stroke="#6e6e6e" stroke-width="0.8"/>
<text x="220.60" y="190.79" font-size="8" text-anchor="end" font-weight="normal" fill="#222" >30</text>
<line x1="223.1" y1="269.56" x2="224.7" y2="269.56" stroke="#6e6e6e" stroke-width="0.7"/>
<line x1="223.1" y1="236.89" x2="224.7" y2="236.89" stroke="#6e6e6e" stroke-width="0.7"/>
<line x1="223.1" y1="204.22" x2="224.7" y2="204.22" stroke="#6e6e6e" stroke-width="0.7"/>
<line x1="243.2" y1="286.4" x2="243.2" y2="288.79999999999995" stroke="#6e6e6e" stroke-width="0.8"/>
<line x1="279.1" y1="286.4" x2="279.1" y2="288.79999999999995" stroke="#6e6e6e" stroke-width="0.8"/>
<line x1="315.1" y1="286.4" x2="315.1" y2="288.79999999999995" stroke="#6e6e6e" stroke-width="0.8"/>
<line x1="351.0" y1="286.4" x2="351.0" y2="288.79999999999995" stroke="#6e6e6e" stroke-width="0.8"/>
<rect x="268.10" y="220.23" width="22" height="65.67" fill="#000"/>
<line x1="279.10" y1="217.62" x2="279.10" y2="220.23" stroke="#555" stroke-width="0.6"/>
<line x1="277.80" y1="217.62" x2="280.40" y2="217.62" stroke="#555" stroke-width="0.6"/>
<rect x="304.10" y="206.84" width="22" height="79.06" fill="#ff0000"/>
<line x1="315.10" y1="203.57" x2="315.10" y2="206.84" stroke="#555" stroke-width="0.6"/>
<line x1="313.80" y1="203.57" x2="316.40" y2="203.57" stroke="#555" stroke-width="0.6"/>
<rect x="340.00" y="200.30" width="22" height="85.60" fill="#0000ff"/>
<line x1="351.00" y1="195.73" x2="351.00" y2="200.30" stroke="#555" stroke-width="0.6"/>
<line x1="349.70" y1="195.73" x2="352.30" y2="195.73" stroke="#555" stroke-width="0.6"/>
<line x1="232.5" y1="285.70" x2="253.8" y2="285.70" stroke="#3030c0" stroke-width="1"/>
<rect x="224.7" y="171.3" width="143.90000000000003" height="115.09999999999997" fill="none" stroke="#6e6e6e" stroke-width="1"/>
<text x="243.20" y="282.60" font-size="7.2" text-anchor="middle" font-weight="normal" fill="#222" textLength="16.6" lengthAdjust="spacingAndGlyphs" >N. D.</text>
<text x="243.20" y="297.20" font-size="8" text-anchor="middle" font-weight="normal" fill="#222" >PBS</text>
<text x="279.10" y="297.20" font-size="8" text-anchor="middle" font-weight="normal" fill="#222" >0%</text>
<text x="315.10" y="297.20" font-size="8" text-anchor="middle" font-weight="normal" fill="#222" >60%</text>
<text x="351.00" y="297.20" font-size="8" text-anchor="middle" font-weight="normal" fill="#222" >80%</text>
<text x="228.80" y="181.20" font-size="7.4" text-anchor="start" font-weight="normal" fill="#222" >50 cycles</text>
<path d="M280.1,192.4 L280.1,190.1 L328.6,190.1 L328.6,192" fill="none" stroke="#777" stroke-width="0.8"/>
<path d="M315,194.4 L315,191.9 L351,191.9 L351,194.4" fill="none" stroke="#777" stroke-width="0.8"/>
<circle cx="305.7" cy="186.2" r="1.15" fill="#222"/>
<text transform="translate(209.3,228.6) rotate(-90)" x="0" y="0" font-size="9.1" text-anchor="middle" fill="#222" textLength="124.5" lengthAdjust="spacingAndGlyphs">Inhibitory Zone Diameter (mm)</text>
<text x="297.00" y="311.80" font-size="9.2" text-anchor="middle" font-weight="normal" fill="#222" textLength="55.5" lengthAdjust="spacingAndGlyphs" >Tensile Strain</text>
<text x="371.90" y="172.60" font-size="11" text-anchor="start" font-weight="bold" fill="#000" textLength="6.3" lengthAdjust="spacingAndGlyphs" stroke="#000" stroke-width="0.35">E</text>
<line x1="401.0" y1="285.50" x2="403.6" y2="285.50" stroke="#6e6e6e" stroke-width="0.8"/>
<text x="399.90" y="288.40" font-size="8" text-anchor="end" font-weight="normal" fill="#222" >0</text>
<line x1="401.0" y1="252.65" x2="403.6" y2="252.65" stroke="#6e6e6e" stroke-width="0.8"/>
<text x="399.90" y="255.55" font-size="8" text-anchor="end" font-weight="normal" fill="#222" >10</text>
<line x1="401.0" y1="219.80" x2="403.6" y2="219.80" stroke="#6e6e6e" stroke-width="0.8"/>
<text x="399.90" y="222.70" font-size="8" text-anchor="end" font-weight="normal" fill="#222" >20</text>
<line x1="401.0" y1="186.95" x2="403.6" y2="186.95" stroke="#6e6e6e" stroke-width="0.8"/>
<text x="399.90" y="189.85" font-size="8" text-anchor="end" font-weight="normal" fill="#222" >30</text>
<line x1="402.0" y1="269.07" x2="403.6" y2="269.07" stroke="#6e6e6e" stroke-width="0.7"/>
<line x1="402.0" y1="236.22" x2="403.6" y2="236.22" stroke="#6e6e6e" stroke-width="0.7"/>
<line x1="402.0" y1="203.38" x2="403.6" y2="203.38" stroke="#6e6e6e" stroke-width="0.7"/>
<line x1="418.3" y1="285.6" x2="418.3" y2="288.0" stroke="#6e6e6e" stroke-width="0.8"/>
<line x1="446.7" y1="285.6" x2="446.7" y2="288.0" stroke="#6e6e6e" stroke-width="0.8"/>
<line x1="475.2" y1="285.6" x2="475.2" y2="288.0" stroke="#6e6e6e" stroke-width="0.8"/>
<line x1="503.7" y1="285.6" x2="503.7" y2="288.0" stroke="#6e6e6e" stroke-width="0.8"/>
<line x1="532.2" y1="285.6" x2="532.2" y2="288.0" stroke="#6e6e6e" stroke-width="0.8"/>
<rect x="438.10" y="242.47" width="17.2" height="43.03" fill="#000"/>
<line x1="446.70" y1="241.15" x2="446.70" y2="242.47" stroke="#555" stroke-width="0.6"/>
<line x1="445.40" y1="241.15" x2="448.00" y2="241.15" stroke="#555" stroke-width="0.6"/>
<rect x="466.60" y="233.27" width="17.2" height="52.23" fill="#ff0000"/>
<line x1="475.20" y1="230.97" x2="475.20" y2="233.27" stroke="#555" stroke-width="0.6"/>
<line x1="473.90" y1="230.97" x2="476.50" y2="230.97" stroke="#555" stroke-width="0.6"/>
<rect x="495.10" y="216.51" width="17.2" height="68.99" fill="#0000ff"/>
<line x1="503.70" y1="213.56" x2="503.70" y2="216.51" stroke="#555" stroke-width="0.6"/>
<line x1="502.40" y1="213.56" x2="505.00" y2="213.56" stroke="#555" stroke-width="0.6"/>
<rect x="523.60" y="206.66" width="17.2" height="78.84" fill="#8a1cf2"/>
<line x1="532.20" y1="203.05" x2="532.20" y2="206.66" stroke="#555" stroke-width="0.6"/>
<line x1="530.90" y1="203.05" x2="533.50" y2="203.05" stroke="#555" stroke-width="0.6"/>
<rect x="403.6" y="171.0" width="143.0" height="114.60000000000002" fill="none" stroke="#6e6e6e" stroke-width="1"/>
<line x1="409.5" y1="285.0" x2="427.2" y2="285.0" stroke="#555" stroke-width="0.8"/>
<text x="418.00" y="281.60" font-size="7.2" text-anchor="middle" font-weight="normal" fill="#222" textLength="16.6" lengthAdjust="spacingAndGlyphs" >N. D.</text>
<text x="418.30" y="295.60" font-size="8" text-anchor="middle" font-weight="normal" fill="#222" >PBS</text>
<text x="446.70" y="295.60" font-size="8" text-anchor="middle" font-weight="normal" fill="#222" >0%</text>
<text x="475.20" y="295.60" font-size="8" text-anchor="middle" font-weight="normal" fill="#222" >40%</text>
<text x="503.70" y="295.60" font-size="8" text-anchor="middle" font-weight="normal" fill="#222" >50%</text>
<text x="532.20" y="295.60" font-size="8" text-anchor="middle" font-weight="normal" fill="#222" >60%</text>
<text x="407.90" y="181.70" font-size="7.4" text-anchor="start" font-weight="normal" fill="#222" textLength="35.5" lengthAdjust="spacingAndGlyphs" >200 cycles</text>
<circle cx="444.9" cy="238.3" r="1.15" fill="#222"/>
<circle cx="447.6" cy="238.3" r="1.15" fill="#222"/>
<circle cx="474.1" cy="227.9" r="1.15" fill="#222"/>
<circle cx="476.9" cy="227.9" r="1.15" fill="#222"/>
<path d="M504.3,193.1 L504.3,190.9 L532.6,190.9 L532.6,193.1" fill="none" stroke="#777" stroke-width="0.8"/>
<text x="519.50" y="188.30" font-size="8" text-anchor="middle" font-weight="normal" fill="#222" >ns</text>
<text transform="translate(388.3,229.8) rotate(-90)" x="0" y="0" font-size="9.1" text-anchor="middle" fill="#222" textLength="124.5" lengthAdjust="spacingAndGlyphs">Inhibitory Zone Diameter (mm)</text>
<text x="475.00" y="310.30" font-size="9.2" text-anchor="middle" font-weight="normal" fill="#222" textLength="79" lengthAdjust="spacingAndGlyphs" >Compressive Strain</text>
</g>
</svg></body></html>
